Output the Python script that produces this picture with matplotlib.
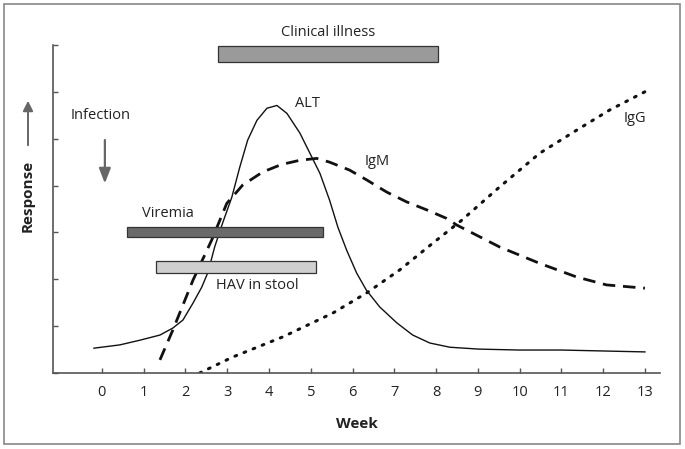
import matplotlib
matplotlib.use("Agg")
import matplotlib.pyplot as plt
from matplotlib.patches import Rectangle, FancyArrowPatch

plt.rcParams['font.family'] = ['Open Sans', 'DejaVu Sans']

weeks = list(range(0, 14))

alt_x = [-0.19, 0.43, 0.91, 1.39, 1.70, 1.94, 2.18, 2.39, 2.54, 2.70, 2.89, 3.11, 3.30, 3.49, 3.71, 3.95, 4.19,
         4.43, 4.74, 4.98, 5.22, 5.45, 5.65, 5.86, 6.10, 6.33, 6.65, 7.06, 7.44, 7.85, 8.33, 9.02, 10.0, 11.0, 12.0, 13.0]
alt_y = [0.53, 0.60, 0.70, 0.81, 0.96, 1.13, 1.49, 1.83, 2.15, 2.69, 3.20, 3.75, 4.39, 4.97, 5.39, 5.65, 5.71,
         5.54, 5.12, 4.69, 4.26, 3.69, 3.11, 2.62, 2.13, 1.77, 1.41, 1.07, 0.81, 0.64, 0.55, 0.51, 0.49, 0.49, 0.47, 0.45]

igm_x = [1.39, 1.70, 2.18, 2.63, 2.99, 3.37, 3.85, 4.30, 4.74, 5.14, 5.45, 5.93, 6.34, 6.82, 7.30, 7.78, 8.25,
         8.49, 9.52, 10.48, 11.36, 12.08, 13.0]
igm_y = [0.28, 0.92, 1.98, 2.84, 3.62, 4.01, 4.29, 4.45, 4.54, 4.58, 4.50, 4.33, 4.12, 3.86, 3.65, 3.48, 3.30,
         3.16, 2.69, 2.34, 2.05, 1.88, 1.81]

igg_x = [2.34, 3.13, 4.33, 5.53, 6.34, 7.13, 7.92, 8.60, 9.52, 10.48, 11.36, 12.15, 13.06]
igg_y = [0.0, 0.34, 0.77, 1.28, 1.71, 2.20, 2.77, 3.25, 3.97, 4.69, 5.18, 5.61, 6.03]

bar_names = ["Clinical illness", "Viremia", "HAV in stool"]
bar_start = [2.78, 0.6, 1.29]
bar_end = [8.04, 5.29, 5.12]
bar_low = [6.63, 2.90, 2.13]
bar_high = [6.97, 3.11, 2.39]
bar_colors = ["#9a9a9a", "#6a6a6a", "#cfcfcf"]

fig = plt.figure(figsize=(6.85, 4.49), dpi=100)
ax = fig.add_axes([53/685, 76/449, (660-53)/685, (373-45)/449])
ax.set_xlim(-1.17, 13.36)
ax.set_ylim(0, 7)

ax.plot(alt_x, alt_y, color="#111111", lw=1.0, solid_joinstyle='round')
ax.plot(igm_x, igm_y, color="#111111", lw=2.0, linestyle=(0, (4.5, 2.8)))
ax.plot(igg_x, igg_y, color="#111111", lw=2.2, linestyle=(0, (0.6, 2.6)), dash_capstyle='round')

for s, e, lo, hi, c in zip(bar_start, bar_end, bar_low, bar_high, bar_colors):
    ax.barh((lo + hi) / 2, e - s, left=s, height=hi - lo, color=c,
            edgecolor="#333333", linewidth=0.9, zorder=3)

axc = "#555555"
for sp in ['top', 'right']:
    ax.spines[sp].set_visible(False)
ax.spines['left'].set_color(axc)
ax.spines['bottom'].set_color(axc)
ax.spines['left'].set_linewidth(1.2)
ax.spines['bottom'].set_linewidth(1.2)
ax.set_xticks(weeks)
ax.set_xticklabels([str(w) for w in weeks], fontsize=10.5, color="#222222")
ax.set_yticks(range(0, 8))
ax.set_yticklabels([])
ax.tick_params(axis='both', direction='in', length=3.5, color=axc, width=1.0)
ax.tick_params(axis='x', pad=9)

ax.set_xlabel("Week", fontsize=11, fontweight='bold', color="#222222", labelpad=12)

tc = "#222222"
ax.text((328-102)/41.8, (373-32)/46.9, bar_names[0], ha='center', va='center', fontsize=10.5, color=tc, clip_on=False)
ax.text((103-102)/41.8 - 0.05, (373-115)/46.9, "Infection", ha='center', va='center', fontsize=10.5, color=tc)
ax.text((308-102)/41.8, (373-103)/46.9, "ALT", ha='center', va='center', fontsize=10.5, color=tc)
ax.text((377-102)/41.8, (373-161)/46.9, "IgM", ha='center', va='center', fontsize=10.5, color=tc)
ax.text((635-102)/41.8, (373-118)/46.9, "IgG", ha='center', va='center', fontsize=10.5, color=tc)
ax.text((168-102)/41.8, (373-213)/46.9, bar_names[1], ha='center', va='center', fontsize=10.5, color=tc)
ax.text((258-102)/41.8, (373-285)/46.9, bar_names[2], ha='center', va='center', fontsize=10.5, color=tc)

# infection arrow
ax.annotate("", xy=((105-102)/41.8, (373-186)/46.9), xytext=((105-102)/41.8, (373-137)/46.9),
            arrowprops=dict(arrowstyle='-|>,head_length=0.9,head_width=0.35', color="#666666", lw=1.6))

# Response label and arrow (figure coords)
fig.text(28/685, 1 - 196/449, "Response", rotation=90, ha='center', va='center',
         fontsize=11, fontweight='bold', color=tc)
fig.add_artist(FancyArrowPatch((28/685, 1 - 148/449), (28/685, 1 - 98/449), transform=fig.transFigure,
               arrowstyle='-|>,head_length=6,head_width=3', color="#666666", lw=1.4))

# outer frame
fig.add_artist(Rectangle((4/685, 5/449), 676/685, 440/449, transform=fig.transFigure,
               fill=False, edgecolor="#888888", lw=1.2))

fig.savefig("out.png", dpi=100)
